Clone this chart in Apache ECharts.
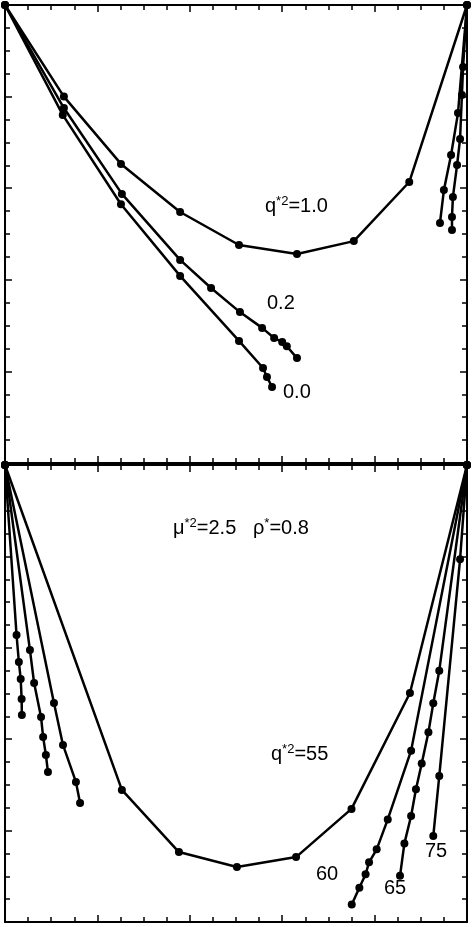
<!DOCTYPE html><html><head><meta charset="utf-8">
<script src="https://cdn.jsdelivr.net/npm/echarts@6/dist/echarts.min.js"></script>
<style>html,body{margin:0;padding:0;background:#fff}#c{width:474px;height:927px}</style></head><body><div id="c"></div>
<script>
const topQ10=[[0,20],[2.55,16.0],[5.02,13.06],[7.58,10.96],[10.13,9.52],[12.64,9.13],[15.1,9.69],[17.5,12.27],[20,20]];
const topQ02=[[0,20],[2.55,15.5],[5.06,11.75],[7.58,8.87],[8.92,7.64],[10.17,6.59],[11.13,5.9],[11.65,5.46],[12.0,5.28],[12.2,5.1],[12.64,4.58]];
const topQ00=[[0,20],[2.5,15.2],[5.02,11.3],[7.58,8.17],[10.13,5.33],[11.17,4.15],[11.34,3.76],[11.56,3.32]];
const topRA=[[20,20],[19.61,15.28],[19.31,13.45],[19.0,11.92],[18.83,10.48]];
const topRB=[[20,20],[19.83,17.29],[19.78,16.07],[19.7,14.15],[19.57,13.01],[19.39,11.62],[19.35,10.74],[19.35,10.17]];
const botQ55=[[0,20],[5.06,5.78],[7.53,3.06],[10.04,2.41],[12.6,2.84],[15.0,4.95],[17.53,10.02],[20,20]];
const botL1=[[0,20],[0.5,12.56],[0.6,11.38],[0.68,10.63],[0.72,9.76],[0.73,9.06]];
const botL2=[[0,20],[1.08,11.9],[1.26,10.46],[1.56,8.97],[1.65,8.1],[1.77,7.31],[1.86,6.56]];
const botL3=[[0,20],[2.12,9.58],[2.51,7.75],[3.07,6.13],[3.25,5.21]];
const botQ75=[[20,20],[19.7,15.87],[18.8,6.39],[18.54,3.76]];
const botQ65=[[20,20],[18.8,11.0],[18.54,9.57],[18.33,8.3],[18.04,6.94],[17.79,5.81],[17.58,4.64],[17.29,3.44],[17.1,2.02]];
const botQ60=[[20,20],[17.58,7.5],[16.57,4.49],[16.09,3.18],[15.76,2.61],[15.61,2.09],[15.34,1.5],[15.01,0.77]];
const topSeries=[topQ10,topQ02,topQ00,topRA,topRB];
const botSeries=[botQ55,botL1,botL2,botL3,botQ75,botQ65,botQ60];
const ax=(pos,gi,isX)=>({type:'value',gridIndex:gi,position:pos,min:0,max:20,interval:4,
 axisLine:{show:true,onZero:false,lineStyle:{color:'#000',width:2}},
 axisTick:{show:true,inside:true,length:7,lineStyle:{color:'#000',width:1.5}},
 minorTick:{show:true,splitNumber:4,length:5,lineStyle:{color:'#000',width:1.5}},
 axisLabel:{show:false},splitLine:{show:false}});
const xAxis=[ax('bottom',0),ax('top',0),ax('bottom',1),ax('top',1)];
const yAxis=[ax('left',0),ax('right',0),ax('left',1),ax('right',1)];
const mk=(d,g)=>({type:'line',data:d,xAxisIndex:g*2,yAxisIndex:g*2,symbol:'circle',symbolSize:8,showSymbol:true,
 lineStyle:{color:'#000',width:2.5},itemStyle:{color:'#000'},animation:false,silent:true});
const series=[...topSeries.map(d=>mk(d,0)),...botSeries.map(d=>mk(d,1))];
const rich={s:{fontSize:13,verticalAlign:'top',lineHeight:14,fill:'#000'}};
const txt=(x,y,t)=>({type:'text',left:x,top:y,style:{text:t,font:'20px "Liberation Sans",Arial,sans-serif',fill:'#000',rich:{s:{fontSize:13,padding:[0,0,10,0],fontFamily:'Liberation Sans'}}}});
const chart=echarts.init(document.getElementById('c'));
chart.setOption({animation:false,backgroundColor:'#fff',
 grid:[{left:5,top:5,width:462,height:458},{left:5,top:465,width:462,height:457}],
 xAxis,yAxis,series,
 graphic:[
  {type:'text',left:265,top:195,style:{text:'q{s|*2}=1.0',font:'20px "Liberation Sans",sans-serif',fill:'#000',rich:{s:{fontSize:13,padding:[0,0,10,0]}}}},
  {type:'text',left:267,top:293,style:{text:'0.2',font:'20px "Liberation Sans",sans-serif',fill:'#000'}},
  {type:'text',left:283,top:382,style:{text:'0.0',font:'20px "Liberation Sans",sans-serif',fill:'#000'}},
  {type:'text',left:173,top:517,style:{text:'μ{s|*2}=2.5   ρ{s|*}=0.8',font:'20px "Liberation Sans",sans-serif',fill:'#000',rich:{s:{fontSize:13,padding:[0,0,10,0]}}}},
  {type:'text',left:271,top:743,style:{text:'q{s|*2}=55',font:'20px "Liberation Sans",sans-serif',fill:'#000',rich:{s:{fontSize:13,padding:[0,0,10,0]}}}},
  {type:'text',left:316,top:864,style:{text:'60',font:'20px "Liberation Sans",sans-serif',fill:'#000'}},
  {type:'text',left:384,top:878,style:{text:'65',font:'20px "Liberation Sans",sans-serif',fill:'#000'}},
  {type:'text',left:425,top:841,style:{text:'75',font:'20px "Liberation Sans",sans-serif',fill:'#000'}}
 ]});
</script></body></html>
